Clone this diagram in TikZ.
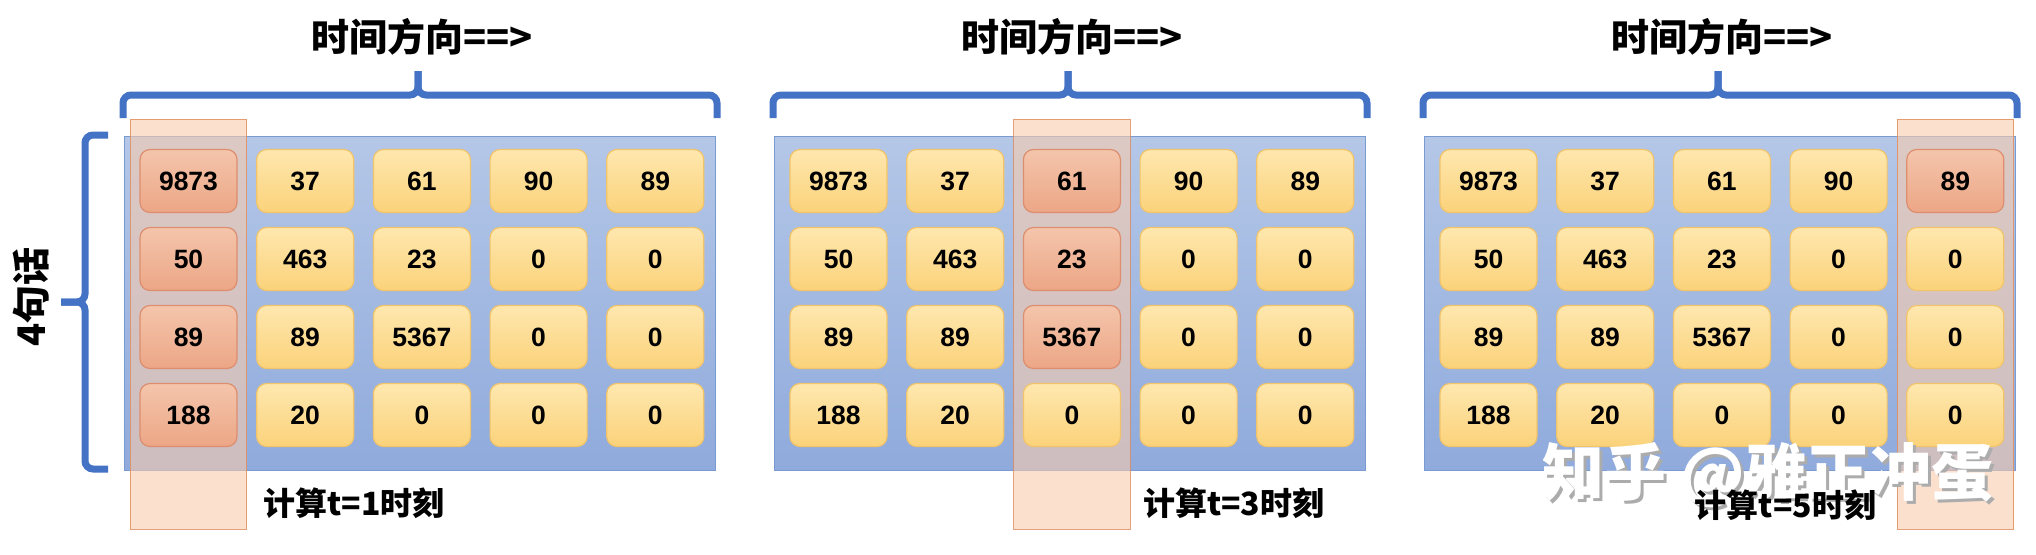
\documentclass[tikz,border=0pt]{standalone}
\usepackage{fontspec}
\setmainfont{Liberation Sans}
\newfontfamily\cjk{Noto Sans CJK SC}
\usetikzlibrary{positioning,calc}
\definecolor{bracecol}{HTML}{4472C4}
\definecolor{paneltop}{HTML}{B4C7E7}
\definecolor{panelbot}{HTML}{8FAADC}
\definecolor{panelline}{HTML}{7A9AD2}
\definecolor{coldtop}{HTML}{FEE7AE}
\definecolor{coldbot}{HTML}{FBD27A}
\definecolor{coldline}{HTML}{F2C46A}
\definecolor{hottop}{HTML}{F4C5AB}
\definecolor{hotbot}{HTML}{ECA686}
\definecolor{hotline}{HTML}{DC8E6E}
\definecolor{winfill}{HTML}{F8CBAD}
\definecolor{winline}{HTML}{E08A5A}
\tikzstyle{panel}=[rectangle,draw=panelline,line width=.5pt,top color=paneltop,
              bottom color=panelbot,minimum width=295.5pt,minimum height=167pt,
              inner sep=0pt,anchor=north west]
\tikzstyle{cellcold}=[rectangle,rounded corners=5pt,draw=coldline,line width=.6pt,
              top color=coldtop,bottom color=coldbot,minimum width=48.5pt,
              minimum height=31.5pt,inner sep=0pt,
              font=\fontsize{13.25}{15}\selectfont\bfseries]
\tikzstyle{cellhot}=[cellcold,draw=hotline,top color=hottop,bottom color=hotbot]
\tikzstyle{window}=[rectangle,draw=winline,line width=.5pt,fill=winfill,
              fill opacity=.6,draw opacity=.8,minimum width=58.25pt,
              minimum height=205pt,inner sep=0pt]
\tikzstyle{brace}=[draw=bracecol,line width=3.5pt,rounded corners=4pt]
\tikzstyle{headtext}=[inner sep=0pt,font=\cjk\bfseries\fontsize{19}{22}\selectfont]
\tikzstyle{steptext}=[inner sep=0pt,font=\cjk\bfseries\fontsize{16}{19}\selectfont]
\tikzstyle{wmtext}=[inner sep=0pt,font=\cjk\bfseries\fontsize{31}{36}\selectfont]

\begin{document}
\begin{tikzpicture}[x=0.5pt,y=-0.5pt]
	\useasboundingbox (0,0) rectangle (2036,554);

	% brace over the 4 sentences
	\coordinate (s0) at (108,135);
	\coordinate (s1) at (108,469);
	\coordinate (sm) at (85,302);
	\coordinate (st) at (61,302);
	\draw[brace] (s0) -| (sm) -- (st);
	\draw[brace] (s1) -| (sm) -- (st);
	\node[headtext,rotate=90] (sent) at (31,297) {4句话};

	\foreach \k/\tm in {1/1,2/3,3/5} {
		\node[panel] (p\k) at ({124+650*(\k-1)},136) {};
		\node[window] (w\k) at ($(p\k.north west)+({64.5+116.7*(\tm-1)},188)$) {};
		\foreach \r/\row in {1/{9873,37,61,90,89},2/{50,463,23,0,0},
		                     3/{89,89,5367,0,0},4/{188,20,0,0,0}} {
			\foreach \v [count=\c] in \row {
				\pgfmathtruncatemacro\hl{(\c==\tm)&&(\v>0)}
				\ifnum\hl=1 \def\cellst{cellhot}\else\def\cellst{cellcold}\fi
				\node[\cellst] (n\k\r\c) at ($(p\k.north west)+({64.5+116.7*(\c-1)},{45+78*(\r-1)})$) {\v};
			}
		}

		% time brace
		\coordinate (l\k) at ($(p\k.north west)+(-1,-18)$);
		\coordinate (r\k) at ($(p\k.north east)+(1,-18)$);
		\coordinate (m\k) at ($(p\k.north)+(-2,-41)$);
		\coordinate (t\k) at ($(p\k.north)+(-2,-65)$);
		\draw[brace] (l\k) |- (m\k) -- (t\k);
		\draw[brace] (r\k) |- (m\k) -- (t\k);
		\node[headtext] (h\k) at ($(p\k.north)+(2,-99)$) {时间方向==>};
	}

	% watermark
	\node[wmtext,text=gray!65] (wm0) at (1771,478) {知乎 @雅正冲蛋};
	\node[wmtext,text=white] (wm) at (1768,475) {知乎 @雅正冲蛋};

	\node[steptext,anchor=west] (c1) at ($(w1.south east)+(16,-26)$) {计算t=1时刻};
	\node[steptext,anchor=west] (c2) at ($(w2.south east)+(12,-26)$) {计算t=3时刻};
	\node[steptext,anchor=east] (c3) at ($(w3.south west)+(-20,-24)$) {计算t=5时刻};
\end{tikzpicture}
\end{document}
